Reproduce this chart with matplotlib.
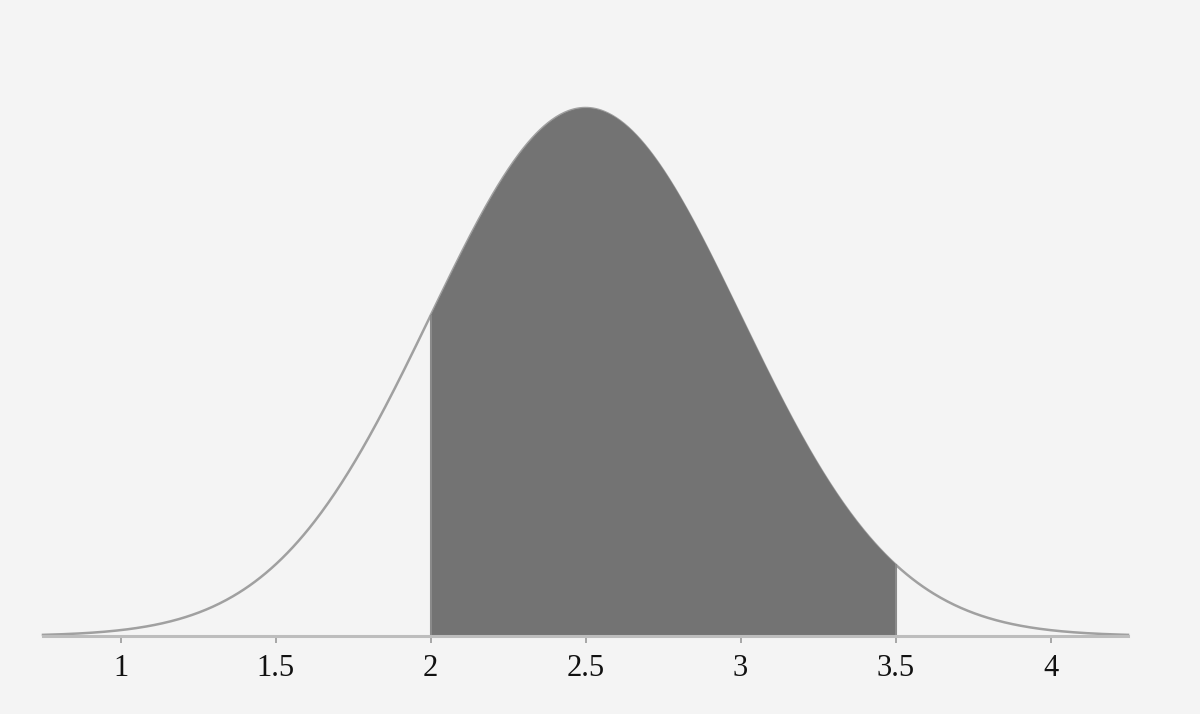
import numpy as np
import matplotlib.pyplot as plt

# normal distribution parameters and the shaded interval
mu = 2.5
sigma = 0.5
x_min, x_max = 0.75, 4.25
shade_from, shade_to = 2.0, 3.5
tick_values = [1, 1.5, 2, 2.5, 3, 3.5, 4]
tick_labels = ["1", "1.5", "2", "2.5", "3", "3.5", "4"]


def gauss(x, m, s):
    return np.exp(-0.5 * ((x - m) / s) ** 2) / (s * np.sqrt(2 * np.pi))


x = np.linspace(x_min, x_max, 800)
y = gauss(x, mu, sigma)
xs = np.linspace(shade_from, shade_to, 400)
ys = gauss(xs, mu, sigma)

fig = plt.figure(figsize=(12, 7.14), dpi=100, facecolor="#f4f4f4")
ax = fig.add_axes([43 / 1200, 1 - 636 / 714, 1085 / 1200, 528 / 714])
ax.set_facecolor("#f4f4f4")

ax.plot(x, y, color="#a0a0a0", lw=1.8, zorder=2, clip_on=False)
ax.fill_between(xs, 0, ys, color="#737373", lw=0.6, edgecolor="#737373", zorder=3, clip_on=False)
ax.plot([shade_from, shade_from], [0, gauss(shade_from, mu, sigma)], color="#8a8a8a", lw=1.5, zorder=3)
ax.plot([shade_to, shade_to], [0, gauss(shade_to, mu, sigma)], color="#8a8a8a", lw=1.5, zorder=3)

ax.set_xlim(x_min, x_max)
ax.set_ylim(0, gauss(mu, mu, sigma))

for side in ["top", "left", "right"]:
    ax.spines[side].set_visible(False)
ax.spines["bottom"].set_color("#bdbdbd")
ax.spines["bottom"].set_linewidth(2.2)
ax.spines["bottom"].set_zorder(4)

ax.set_yticks([])
ax.set_xticks(tick_values)
ax.set_xticklabels(tick_labels, fontfamily="Liberation Serif", fontsize=22, color="#111111")
ax.tick_params(axis="x", length=5, width=1.2, color="#999999", pad=8)

fig.savefig("out.png", dpi=100, facecolor="#f4f4f4")
